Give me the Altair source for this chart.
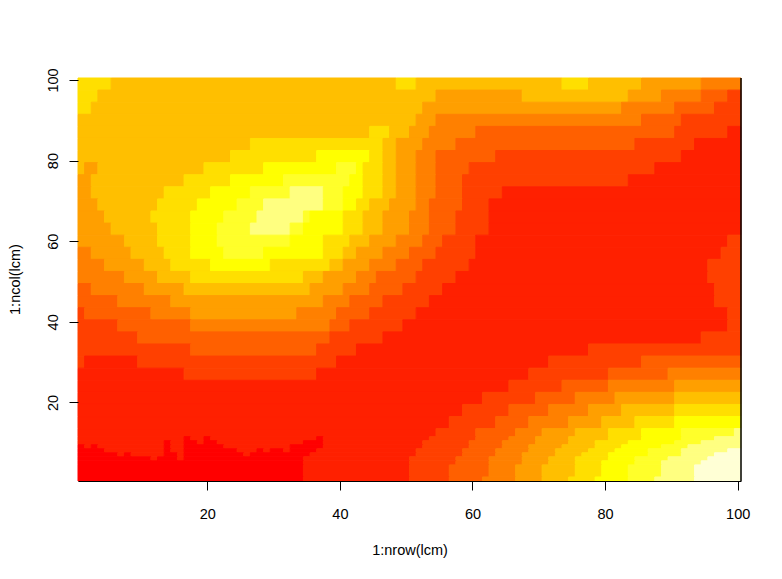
import altair as alt
import pandas as pd

HEAT_COLOURS = ["#FF0000", "#FF2000", "#FF4000", "#FF6000", "#FF8000", "#FF9F00",
                "#FFBF00", "#FFDF00", "#FFFF00", "#FFFF2A", "#FFFF80", "#FFFFD5"]
TICKS = [20, 40, 60, 80, 100]

# each band: first row, last row, then (colour level, last column of that run)
BANDS = [
 (98,100,[(7,5),(6,48),(7,51),(6,73),(7,77),(6,85),(5,94),(4,100)]),
 (95,97,[(7,3),(6,54),(5,67),(6,83),(5,88),(4,94),(3,98),(2,100)]),
 (92,94,[(7,2),(6,52),(5,82),(4,90),(3,96),(2,100)]),
 (89,91,[(6,51),(5,54),(4,85),(3,91),(2,100)]),
 (86,88,[(6,44),(7,47),(6,50),(5,53),(4,60),(3,90),(2,98),(1,100)]),
 (83,85,[(6,26),(7,46),(6,48),(5,52),(4,57),(3,84),(2,93),(1,100)]),
 (80,82,[(6,23),(7,36),(8,44),(7,46),(6,48),(5,51),(4,54),(3,63),(2,91),(1,100)]),
 (77,79,[(6,1),(5,3),(6,19),(7,28),(8,39),(9,42),(8,43),(7,46),(6,48),(5,51),(4,54),(3,59),(2,87),(1,100)]),
 (74,76,[(5,2),(6,16),(7,23),(8,31),(9,41),(8,43),(7,46),(6,48),(5,51),(4,54),(3,58),(2,83),(1,100)]),
 (71,73,[(5,2),(6,13),(7,20),(8,26),(9,32),(10,37),(9,40),(8,43),(7,46),(6,48),(5,51),(4,54),(3,58),(2,64),(1,100)]),
 (68,70,[(5,3),(6,12),(7,18),(8,24),(9,28),(10,37),(9,40),(8,42),(7,44),(6,47),(5,51),(4,53),(3,58),(2,62),(1,100)]),
 (65,67,[(5,4),(6,11),(7,17),(8,22),(9,27),(10,34),(9,35),(8,40),(7,43),(6,46),(5,50),(4,53),(3,57),(2,62),(1,100)]),
 (62,64,[(5,5),(6,12),(7,17),(8,21),(9,26),(10,32),(9,34),(8,40),(7,43),(6,46),(5,50),(4,53),(3,57),(2,62),(1,100)]),
 (59,61,[(5,7),(6,12),(7,17),(8,21),(9,32),(8,37),(7,41),(6,44),(5,48),(4,52),(3,55),(2,60),(1,98),(2,100)]),
 (56,58,[(4,2),(5,8),(6,13),(7,17),(8,22),(9,28),(8,37),(7,40),(6,42),(5,46),(4,50),(3,54),(2,60),(1,97),(2,100)]),
 (53,55,[(4,4),(5,10),(6,14),(7,20),(8,29),(7,38),(6,40),(5,44),(4,48),(3,52),(2,59),(1,95),(2,100)]),
 (50,52,[(4,7),(5,12),(6,17),(7,34),(6,37),(5,42),(4,45),(3,51),(2,57),(1,95),(2,100)]),
 (47,49,[(3,2),(4,10),(5,16),(6,35),(5,40),(4,44),(3,49),(2,55),(1,96),(2,100)]),
 (44,46,[(3,6),(4,14),(5,37),(4,41),(3,46),(2,53),(1,96),(2,100)]),
 (41,43,[(2,1),(3,11),(4,17),(5,33),(4,39),(3,44),(2,51),(1,98),(2,100)]),
 (38,40,[(2,6),(3,17),(4,38),(3,41),(2,49),(1,98),(2,100)]),
 (35,37,[(2,9),(3,38),(2,46),(1,94),(2,100)]),
 (32,34,[(2,17),(3,36),(2,42),(1,77),(2,100)]),
 (29,31,[(2,1),(1,9),(2,39),(1,71),(2,85),(3,100)]),
 (26,28,[(1,16),(2,36),(1,68),(2,80),(3,89),(4,100)]),
 (23,25,[(1,65),(2,73),(3,80),(4,90),(5,100)]),
 (20,22,[(1,61),(2,69),(3,75),(4,81),(5,90),(6,100)]),
 (17,19,[(1,58),(2,65),(3,71),(4,77),(5,82),(6,90),(7,100)]),
 (14,16,[(1,56),(2,63),(3,68),(4,74),(5,79),(6,84),(7,90),(8,100)]),
 (12,13,[(1,54),(2,60),(3,66),(4,70),(5,75),(6,80),(7,85),(8,91),(9,99),(10,100)]),
 (11,11,[(1,16),(0,17),(1,19),(0,20),(1,36),(0,37),(1,53),(2,60),(3,65),(4,69),(5,74),(6,80),(7,85),(8,91),(9,96),(10,100)]),
 (10,10,[(1,13),(0,14),(1,16),(0,18),(1,19),(0,21),(1,34),(0,37),(1,52),(2,59),(3,64),(4,69),(5,74),(6,78),(7,83),(8,90),(9,94),(10,100)]),
 (9,9,[(0,1),(1,2),(0,3),(1,13),(0,14),(1,16),(0,22),(1,32),(0,37),(1,52),(2,59),(3,64),(4,68),(5,73),(6,78),(7,82),(8,88),(9,92),(10,100)]),
 (8,8,[(0,4),(1,13),(0,14),(1,16),(0,24),(1,27),(0,28),(1,29),(0,31),(1,32),(0,36),(1,51),(2,58),(3,63),(4,68),(5,72),(6,77),(7,81),(8,86),(9,91),(10,98),(11,100)]),
 (7,7,[(0,6),(1,7),(0,8),(1,13),(0,15),(1,16),(0,25),(1,26),(0,35),(1,51),(2,58),(3,63),(4,67),(5,72),(6,76),(7,80),(8,86),(9,91),(10,96),(11,100)]),
 (6,6,[(0,11),(1,12),(0,15),(1,16),(0,34),(1,50),(2,57),(3,62),(4,67),(5,71),(6,75),(7,80),(8,84),(9,89),(10,95),(11,100)]),
 (5,5,[(0,34),(1,50),(2,57),(3,62),(4,67),(5,71),(6,75),(7,79),(8,84),(9,88),(10,94),(11,100)]),
 (2,4,[(0,34),(1,50),(2,56),(3,62),(4,66),(5,70),(6,75),(7,79),(8,83),(9,88),(10,93),(11,100)]),
 (1,1,[(0,34),(1,50),(2,56),(3,61),(4,66),(5,70),(6,74),(7,78),(8,83),(9,87),(10,93),(11,100)]),
]

records = []
for low, high, runs in BANDS:
    start = 1
    for level, end in runs:
        records.append(dict(x0=start - 0.5, x1=end + 0.5, y0=low - 0.5, y1=high + 0.5, level=level))
        start = end + 1
df = pd.DataFrame(records)

FONT = "Liberation Sans"
x_scale = alt.Scale(domain=[0.5, 100.5], nice=False, zero=False)
y_scale = alt.Scale(domain=[0.5, 100.5], nice=False, zero=False)
colour = alt.Color("level:O", legend=None,
                   scale=alt.Scale(domain=list(range(12)), range=HEAT_COLOURS))

heat = alt.Chart(df).mark_rect(strokeWidth=1).encode(
    x=alt.X("x0:Q", scale=x_scale, axis=alt.Axis(
        values=TICKS, format="d", title="1:nrow(lcm)", grid=False, tickSize=9,
        tickColor="black", domainColor="black", labelColor="black", titleColor="black",
        labelFont=FONT, titleFont=FONT, labelFontSize=14.5, titleFontSize=14.5,
        titleFontWeight="normal", labelPadding=17, titleY=62, titleX=331.5,
        labelFlush=False, zindex=2)),
    x2="x1:Q",
    y=alt.Y("y0:Q", scale=y_scale, axis=alt.Axis(
        values=TICKS, format="d", title="1:ncol(lcm)", grid=False, tickSize=9,
        tickColor="black", domain=False, labelColor="black", titleColor="black",
        labelFont=FONT, titleFont=FONT, labelFontSize=14.5, titleFontSize=14.5,
        titleFontWeight="normal", labelAngle=270, labelAlign="center", labelBaseline="bottom",
        labelPadding=9, titleX=-56, titleY=201, labelFlush=False, zindex=2)),
    y2="y1:Q",
    color=colour,
    stroke=alt.Stroke("level:O", legend=None,
                      scale=alt.Scale(domain=list(range(12)), range=HEAT_COLOURS)),
)

edge = alt.Chart(pd.DataFrame({"x": [100.5]})).mark_rule(color="black", strokeWidth=1.5).encode(
    x=alt.X("x:Q", scale=x_scale)
)

chart = alt.layer(heat, edge).properties(
    width=663, height=403,
    padding={"left": 70, "top": 70, "right": 30, "bottom": 90},
    autosize=alt.AutoSizeParams(type="none"),
).configure_view(stroke=None)

chart.save("out.html", embed_options={"renderer": "svg", "actions": False})
